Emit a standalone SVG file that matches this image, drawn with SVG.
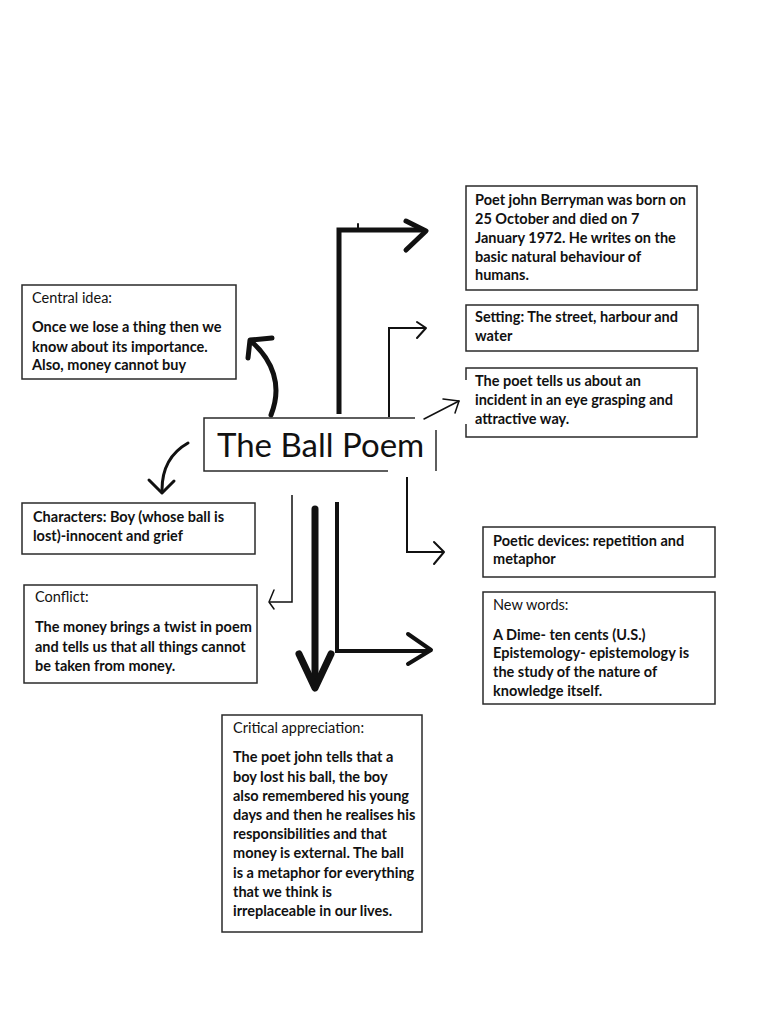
<svg xmlns="http://www.w3.org/2000/svg" width="768" height="1024" viewBox="0 0 768 1024">
<style>
.box{fill:#fff;stroke:#2a2a2a;stroke-width:1.5}
.t{font-family:Lato,"Open Sans","Liberation Sans",sans-serif;font-size:14.5px;fill:#111;font-weight:bold}
.h{font-weight:normal}
.title{font-family:Lato,"Open Sans","Liberation Sans",sans-serif;font-size:33px;fill:#111}
.c{fill:none;stroke:#111;stroke-linecap:round;stroke-linejoin:round}
.c1{stroke-width:1.5}.c2{stroke-width:2}.c3{stroke-width:3}.c4{stroke-width:4}.c5{stroke-width:5}.c7{stroke-width:7}
.sq{stroke-linecap:butt;stroke-linejoin:miter}
</style>
<rect width="768" height="1024" fill="#fff"/>
<g id="connectors">
<path class="c c5 sq" d="M339,414 V230 H424"/>
<path class="c c5" d="M406,221 L426,231 L406,250"/>
<path class="c c2" d="M358,224 V229"/>
<path class="c c2 sq" d="M389,417 V328 H425"/>
<path class="c c2" d="M417,322 L426,328 L417,338"/>
<path class="c c1" d="M424,419 L459,401"/>
<path class="c c1" d="M443,399 L459,401 L455,413"/>
<path class="c c5" d="M271,415 C283,385 272,360 252,342"/>
<path class="c c5" d="M248,358 L250,340 L272,338"/>
<path class="c c3" d="M188,443 C172,452 162,468 162,490"/>
<path class="c c3" d="M149,480 L162,493 L174,481"/>
<path class="c c1 sq" d="M292,495 V602 H270"/>
<path class="c c1" d="M274,590 L269,602 L274,609"/>
<path class="c c7" d="M315,509 V686"/>
<path class="c c7" d="M299,654 L315,688 L331,654"/>
<path class="c c4 sq" d="M337,502 V651 H430"/>
<path class="c c4" d="M408,634 L431,650 L408,664"/>
<path class="c c2 sq" d="M407,477 V552 H444"/>
<path class="c c2" d="M434,542 L444,552 L434,564"/>
</g>
<g id="title">
<path fill="none" stroke="#2a2a2a" stroke-width="1.5" d="M415,418 H204 V471 H388 M436,430 V471"/>
<text class="title" x="217" y="457">The Ball Poem</text>
</g>
<g id="central-idea">
<rect class="box" x="22" y="285" width="214" height="94"/>
<text class="t h" x="32" y="303">Central idea:</text>
<text class="t" x="32" y="332">Once we lose a thing then we</text>
<text class="t" x="32" y="352">know about its importance.</text>
<text class="t" x="32" y="370">Also, money cannot buy</text>
</g>
<g id="poet">
<rect class="box" x="466" y="186" width="231" height="104"/>
<text class="t" x="475" y="205">Poet john Berryman was born on</text>
<text class="t" x="475" y="224">25 October and died on 7</text>
<text class="t" x="475" y="243">January 1972. He writes on the</text>
<text class="t" x="475" y="262">basic natural behaviour of</text>
<text class="t" x="475" y="280">humans.</text>
</g>
<g id="setting">
<rect class="box" x="466" y="305" width="232" height="46"/>
<text class="t" x="475" y="322">Setting: The street, harbour and</text>
<text class="t" x="475" y="341">water</text>
</g>
<g id="incident">
<path fill="#fff" stroke="#2a2a2a" stroke-width="1.5" d="M466,380 V368 H697 V437 H466 V424"/>
<text class="t" x="475" y="386">The poet tells us about an</text>
<text class="t" x="475" y="405">incident in an eye grasping and</text>
<text class="t" x="475" y="424">attractive way.</text>
</g>
<g id="characters">
<rect class="box" x="22" y="503" width="233" height="51"/>
<text class="t" x="33" y="522">Characters: Boy (whose ball is</text>
<text class="t" x="33" y="541">lost)-innocent and grief</text>
</g>
<g id="conflict">
<rect class="box" x="24" y="585" width="233" height="98"/>
<text class="t h" x="35" y="602">Conflict:</text>
<text class="t" x="35" y="632">The money brings a twist in poem</text>
<text class="t" x="35" y="652">and tells us that all things cannot</text>
<text class="t" x="35" y="671">be taken from money.</text>
</g>
<g id="poetic-devices">
<rect class="box" x="483" y="527" width="232" height="50"/>
<text class="t" x="493" y="546">Poetic devices: repetition and</text>
<text class="t" x="493" y="564">metaphor</text>
</g>
<g id="new-words">
<rect class="box" x="483" y="592" width="232" height="112"/>
<text class="t h" x="493" y="610">New words:</text>
<text class="t" x="493" y="640">A Dime- ten cents (U.S.)</text>
<text class="t" x="493" y="658">Epistemology- epistemology is</text>
<text class="t" x="493" y="677">the study of the nature of</text>
<text class="t" x="493" y="696">knowledge itself.</text>
</g>
<g id="critical-appreciation">
<rect class="box" x="222" y="715" width="200" height="217"/>
<text class="t h" x="233" y="733">Critical appreciation:</text>
<text class="t" x="233" y="762">The poet john tells that a</text>
<text class="t" x="233" y="782">boy lost his ball, the boy</text>
<text class="t" x="233" y="801">also remembered his young</text>
<text class="t" x="233" y="820">days and then he realises his</text>
<text class="t" x="233" y="839">responsibilities and that</text>
<text class="t" x="233" y="858">money is external. The ball</text>
<text class="t" x="233" y="878">is a metaphor for everything</text>
<text class="t" x="233" y="897">that we think is</text>
<text class="t" x="233" y="916">irreplaceable in our lives.</text>
</g>
</svg>
